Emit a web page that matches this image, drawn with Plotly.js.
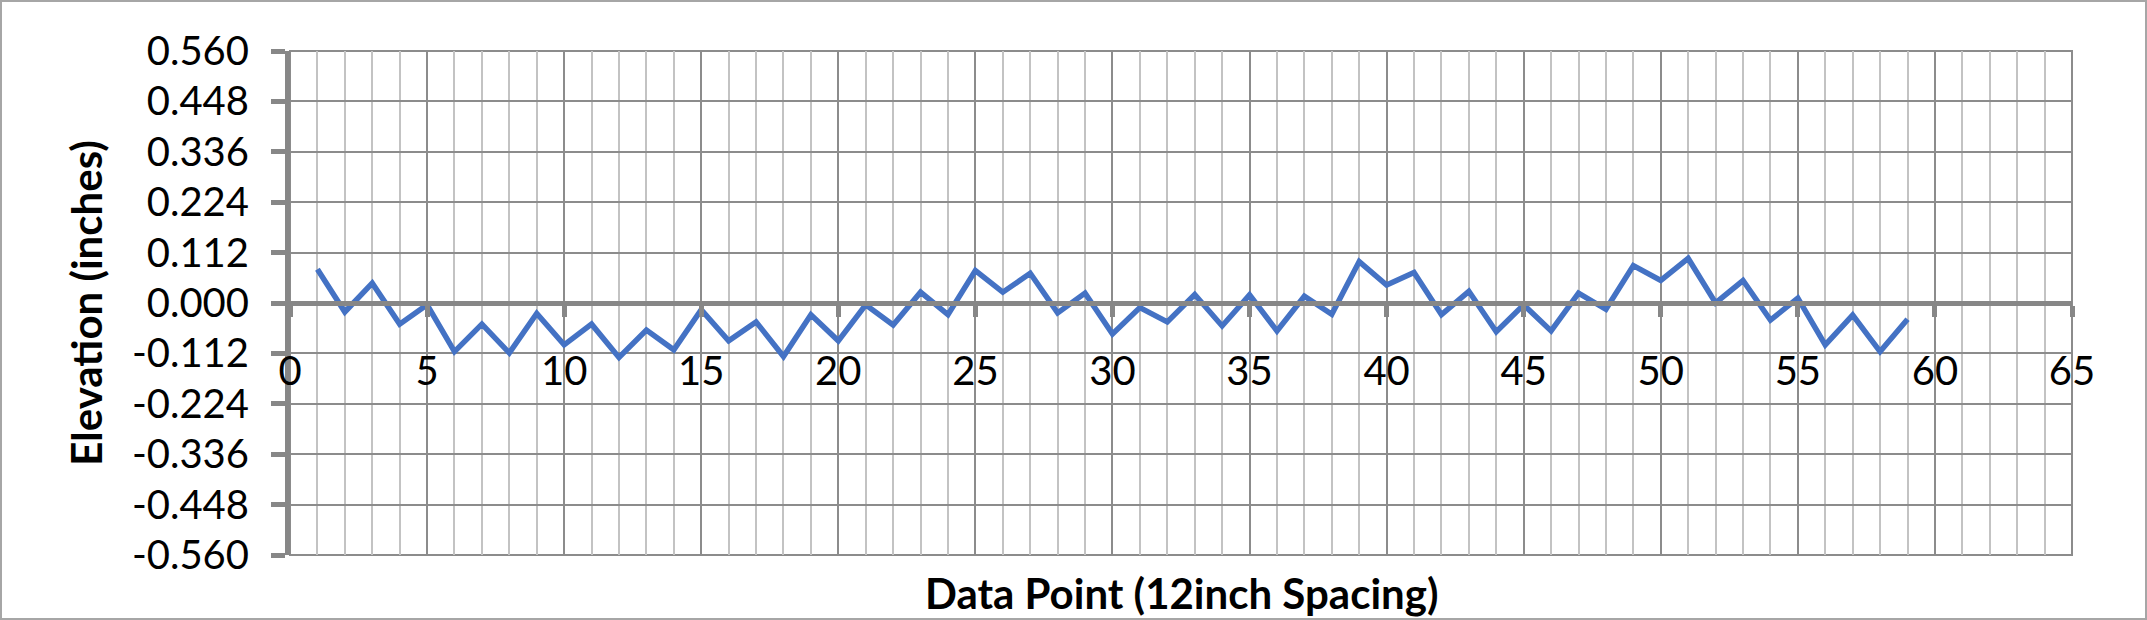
<!DOCTYPE html>
<html>
<head>
<meta charset="utf-8">
<script src="https://cdn.plot.ly/plotly-3.0.1.min.js"></script>
<style>
html,body{margin:0;padding:0;background:#fff;}
#wrap{position:relative;width:2147px;height:620px;}
#chart{width:2147px;height:620px;}
#frame{position:absolute;left:0;top:0;width:2147px;height:620px;box-sizing:border-box;border:2px solid #A6A6A6;pointer-events:none;}
</style>
</head>
<body>
<div id="wrap"><div id="chart"></div><div id="frame"></div></div>
<script>
// Data point index (12 inch spacing)
const dataPoints = [1,2,3,4,5,6,7,8,9,10,11,12,13,14,15,16,17,18,19,20,21,22,23,24,25,26,27,28,29,30,31,32,33,34,35,36,37,38,39,40,41,42,43,44,45,46,47,48,49,50,51,52,53,54,55,56,57,58,59];
// Elevation (inches)
const elevation = [0.075,-0.020,0.044,-0.047,-0.004,-0.108,-0.047,-0.111,-0.023,-0.093,
  -0.047,-0.121,-0.060,-0.104,-0.015,-0.084,-0.042,-0.119,-0.026,-0.084,
  -0.004,-0.049,0.024,-0.026,0.072,0.024,0.066,-0.022,0.022,-0.069,
  -0.010,-0.042,0.019,-0.051,0.018,-0.062,0.015,-0.025,0.092,0.040,
  0.068,-0.026,0.026,-0.064,-0.004,-0.062,0.022,-0.014,0.083,0.050,
  0.099,0.000,0.050,-0.038,0.011,-0.093,-0.027,-0.108,-0.036];
// Axis ticks
const yTickVals = [-0.56,-0.448,-0.336,-0.224,-0.112,0,0.112,0.224,0.336,0.448,0.56];
const yTickText = ["-0.560","-0.448","-0.336","-0.224","-0.112","0.000","0.112","0.224","0.336","0.448","0.560"];
const xTickVals = [0,5,10,15,20,25,30,35,40,45,50,55,60,65];
const xTickText = ["0","5","10","15","20","25","30","35","40","45","50","55","60","65"];
const yTitle = "Elevation (inches)";
const xTitle = "Data Point (12inch Spacing)";

const FONT = "Lato, 'Open Sans', sans-serif";
const AX = "#878787";

const trace = {
  x: dataPoints, y: elevation, type: "scatter", mode: "lines",
  line: {color: "#4472C4", width: 5.5},
  hoverinfo: "skip"
};

const layout = {
  width: 2147, height: 620,
  margin: {l: 290, r: 75, t: 51, b: 65},
  paper_bgcolor: "#fff", plot_bgcolor: "#fff",
  showlegend: false,
  font: {family: FONT, color: "#000", size: 40},
  xaxis: {
    range: [0, 65], tickmode: "array", tickvals: xTickVals, ticktext: xTickText,
    anchor: "free", position: 0.5,
    showline: true, linecolor: AX, linewidth: 5,
    ticks: "outside", ticklen: 11, tickwidth: 5, tickcolor: AX,
    ticklabelstandoff: 20,
    showgrid: true, gridcolor: "#8C8C8C", gridwidth: 2,
    minor: {dtick: 1, tick0: 0, showgrid: true, gridcolor: "#C3C3C3", gridwidth: 2, ticks: ""},
    zeroline: false, tickfont: {family: FONT, size: 40, color: "#000"},
    fixedrange: true
  },
  yaxis: {
    range: [-0.56, 0.56], tickmode: "array", tickvals: yTickVals, ticktext: yTickText,
    showline: true, linecolor: AX, linewidth: 5,
    ticks: "outside", ticklen: 14, tickwidth: 5, tickcolor: AX,
    ticklabelstandoff: 14,
    showgrid: true, gridcolor: "#8C8C8C", gridwidth: 2,
    zeroline: false, tickfont: {family: FONT, size: 40, color: "#000"},
    title: {text: "<b>" + yTitle + "</b>", font: {family: FONT, size: 42, color: "#000"}, standoff: 18},
    fixedrange: true
  },
  shapes: [
    {type: "rect", xref: "paper", yref: "paper", x0: 0, x1: 1, y0: 0, y1: 1,
     line: {color: "#8C8C8C", width: 2}, layer: "below"}
  ],
  annotations: [
    {text: "<b>" + xTitle + "</b>", xref: "paper", yref: "paper", x: 0.5, y: -0.075,
     xanchor: "center", yanchor: "middle", showarrow: false,
     font: {family: FONT, size: 42, color: "#000"}}
  ]
};

Plotly.newPlot("chart", [trace], layout, {staticPlot: true, displayModeBar: false});
</script>
</body>
</html>
